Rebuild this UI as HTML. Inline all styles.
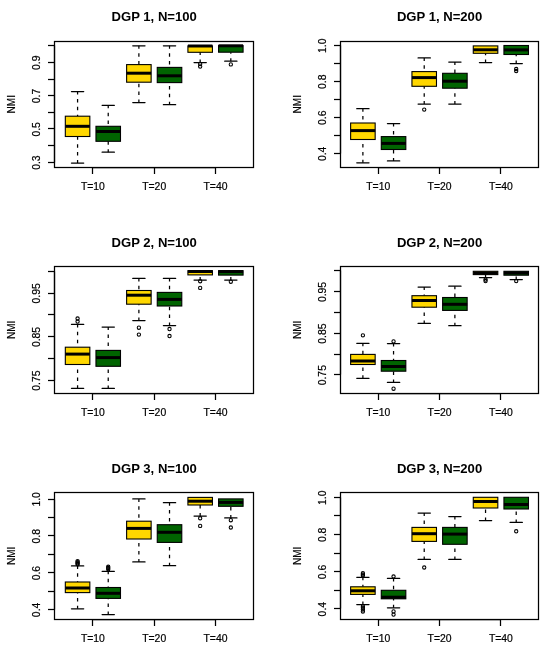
<!DOCTYPE html>
<html><head><meta charset="utf-8"><title>NMI boxplots</title>
<style>
html,body{margin:0;padding:0;background:#fff;}
body{width:550px;height:650px;overflow:hidden;}
svg{display:block;}
#w{width:550px;height:650px;}
.t{font-family:"Liberation Sans",Arial,sans-serif;font-size:10.4px;text-anchor:middle;fill:#000;stroke:#000;stroke-width:0.2px;}
.n{font-size:10px;stroke-width:0.12px;}
.ti{font-family:"Liberation Sans",Arial,sans-serif;font-size:13.1px;font-weight:bold;text-anchor:middle;fill:#000;}
.w{stroke:#000;stroke-width:1.25;stroke-dasharray:3.5 4.4;stroke-dashoffset:0.5;}
.s{stroke:#000;stroke-width:1.25;stroke-linecap:round;}
.b{stroke:#000;stroke-width:1.1;}
.m{stroke:#000;stroke-width:3;}
.o{fill:none;stroke:#000;stroke-width:1.05;}
.fr{fill:none;stroke:#000;stroke-width:1.25;}
.ax{stroke:#000;stroke-width:1.25;}
</style></head>
<body>
<div id="w">
<svg width="550" height="650" viewBox="0 0 550 650">
<line x1="77.58" y1="91.5" x2="77.58" y2="116.2" class="w"/>
<line x1="77.58" y1="163" x2="77.58" y2="136.5" class="w"/>
<line x1="71.45" y1="91.5" x2="83.71" y2="91.5" class="s"/>
<line x1="71.45" y1="163" x2="83.71" y2="163" class="s"/>
<rect x="65.32" y="116.2" width="24.52" height="20.3" fill="#FFD700" class="b"/>
<line x1="65.32" y1="126.3" x2="89.84" y2="126.3" class="m"/>
<line x1="108.23" y1="105.3" x2="108.23" y2="126.3" class="w"/>
<line x1="108.23" y1="152.2" x2="108.23" y2="141.3" class="w"/>
<line x1="102.1" y1="105.3" x2="114.36" y2="105.3" class="s"/>
<line x1="102.1" y1="152.2" x2="114.36" y2="152.2" class="s"/>
<rect x="95.97" y="126.3" width="24.52" height="15" fill="#006400" class="b"/>
<line x1="95.97" y1="131.5" x2="120.49" y2="131.5" class="m"/>
<line x1="138.88" y1="45.8" x2="138.88" y2="64.6" class="w"/>
<line x1="138.88" y1="102.5" x2="138.88" y2="82.2" class="w"/>
<line x1="132.75" y1="45.8" x2="145.01" y2="45.8" class="s"/>
<line x1="132.75" y1="102.5" x2="145.01" y2="102.5" class="s"/>
<rect x="126.62" y="64.6" width="24.52" height="17.6" fill="#FFD700" class="b"/>
<line x1="126.62" y1="73.2" x2="151.14" y2="73.2" class="m"/>
<line x1="169.52" y1="45.8" x2="169.52" y2="67.4" class="w"/>
<line x1="169.52" y1="104.7" x2="169.52" y2="82.6" class="w"/>
<line x1="163.39" y1="45.8" x2="175.65" y2="45.8" class="s"/>
<line x1="163.39" y1="104.7" x2="175.65" y2="104.7" class="s"/>
<rect x="157.26" y="67.4" width="24.52" height="15.2" fill="#006400" class="b"/>
<line x1="157.26" y1="75.8" x2="181.78" y2="75.8" class="m"/>
<line x1="200.17" y1="62.5" x2="200.17" y2="52.3" class="w"/>
<line x1="194.04" y1="62.5" x2="206.3" y2="62.5" class="s"/>
<rect x="187.91" y="45.9" width="24.52" height="6.4" fill="#FFD700" class="b"/>
<line x1="187.91" y1="46" x2="212.43" y2="46" class="m"/>
<circle cx="200.17" cy="64" r="1.65" class="o"/>
<circle cx="200.17" cy="66.5" r="1.65" class="o"/>
<line x1="230.82" y1="61.2" x2="230.82" y2="52.2" class="w"/>
<line x1="224.69" y1="61.2" x2="236.95" y2="61.2" class="s"/>
<rect x="218.56" y="45.6" width="24.52" height="6.6" fill="#006400" class="b"/>
<line x1="218.56" y1="45.8" x2="243.08" y2="45.8" class="m"/>
<circle cx="230.82" cy="64.4" r="1.65" class="o"/>
<rect x="54.5" y="41.5" width="199" height="126" class="fr"/>
<line x1="54.5" y1="162.5" x2="54.5" y2="45.5" class="ax"/>
<line x1="48" y1="162.5" x2="54.5" y2="162.5" class="ax"/>
<line x1="48" y1="145.5" x2="54.5" y2="145.5" class="ax"/>
<line x1="48" y1="128.5" x2="54.5" y2="128.5" class="ax"/>
<line x1="48" y1="112.5" x2="54.5" y2="112.5" class="ax"/>
<line x1="48" y1="95.5" x2="54.5" y2="95.5" class="ax"/>
<line x1="48" y1="79.5" x2="54.5" y2="79.5" class="ax"/>
<line x1="48" y1="62.5" x2="54.5" y2="62.5" class="ax"/>
<line x1="48" y1="45.5" x2="54.5" y2="45.5" class="ax"/>
<text transform="translate(40.3,162.65) rotate(-90)" class="t">0.3</text>
<text transform="translate(40.3,129.35) rotate(-90)" class="t">0.5</text>
<text transform="translate(40.3,96.05) rotate(-90)" class="t">0.7</text>
<text transform="translate(40.3,62.75) rotate(-90)" class="t">0.9</text>
<text transform="translate(15.3,104.25) rotate(-90)" class="t n">NMI</text>
<line x1="92.5" y1="167.5" x2="215.5" y2="167.5" class="ax"/>
<line x1="92.5" y1="167.5" x2="92.5" y2="174" class="ax"/>
<text x="92.9" y="189.8" class="t">T=10</text>
<line x1="154.5" y1="167.5" x2="154.5" y2="174" class="ax"/>
<text x="154.2" y="189.8" class="t">T=20</text>
<line x1="215.5" y1="167.5" x2="215.5" y2="174" class="ax"/>
<text x="215.5" y="189.8" class="t">T=40</text>
<text x="154.2" y="21.4" class="ti">DGP 1, N=100</text>
<line x1="362.89" y1="108.7" x2="362.89" y2="123" class="w"/>
<line x1="362.89" y1="162.8" x2="362.89" y2="139.5" class="w"/>
<line x1="356.76" y1="108.7" x2="369.02" y2="108.7" class="s"/>
<line x1="356.76" y1="162.8" x2="369.02" y2="162.8" class="s"/>
<rect x="350.63" y="123" width="24.53" height="16.5" fill="#FFD700" class="b"/>
<line x1="350.63" y1="130.6" x2="375.16" y2="130.6" class="m"/>
<line x1="393.55" y1="123.6" x2="393.55" y2="136.6" class="w"/>
<line x1="393.55" y1="160.9" x2="393.55" y2="149.5" class="w"/>
<line x1="387.42" y1="123.6" x2="399.69" y2="123.6" class="s"/>
<line x1="387.42" y1="160.9" x2="399.69" y2="160.9" class="s"/>
<rect x="381.29" y="136.6" width="24.53" height="12.9" fill="#006400" class="b"/>
<line x1="381.29" y1="143.4" x2="405.82" y2="143.4" class="m"/>
<line x1="424.22" y1="57.9" x2="424.22" y2="71.6" class="w"/>
<line x1="424.22" y1="104.1" x2="424.22" y2="86.3" class="w"/>
<line x1="418.09" y1="57.9" x2="430.35" y2="57.9" class="s"/>
<line x1="418.09" y1="104.1" x2="430.35" y2="104.1" class="s"/>
<rect x="411.95" y="71.6" width="24.53" height="14.7" fill="#FFD700" class="b"/>
<line x1="411.95" y1="77.6" x2="436.48" y2="77.6" class="m"/>
<circle cx="424.22" cy="109.6" r="1.65" class="o"/>
<line x1="454.88" y1="62.1" x2="454.88" y2="73.3" class="w"/>
<line x1="454.88" y1="104.1" x2="454.88" y2="88.2" class="w"/>
<line x1="448.75" y1="62.1" x2="461.01" y2="62.1" class="s"/>
<line x1="448.75" y1="104.1" x2="461.01" y2="104.1" class="s"/>
<rect x="442.62" y="73.3" width="24.53" height="14.9" fill="#006400" class="b"/>
<line x1="442.62" y1="81.2" x2="467.15" y2="81.2" class="m"/>
<line x1="485.55" y1="62.6" x2="485.55" y2="53.3" class="w"/>
<line x1="479.41" y1="62.6" x2="491.68" y2="62.6" class="s"/>
<rect x="473.28" y="45.9" width="24.53" height="7.4" fill="#FFD700" class="b"/>
<line x1="473.28" y1="49.8" x2="497.81" y2="49.8" class="m"/>
<line x1="516.21" y1="63.6" x2="516.21" y2="54.5" class="w"/>
<line x1="510.08" y1="63.6" x2="522.34" y2="63.6" class="s"/>
<rect x="503.94" y="45.5" width="24.53" height="9" fill="#006400" class="b"/>
<line x1="503.94" y1="49.9" x2="528.47" y2="49.9" class="m"/>
<circle cx="516.21" cy="69" r="1.65" class="o"/>
<circle cx="516.21" cy="71" r="1.65" class="o"/>
<rect x="340.5" y="41.5" width="198" height="126" class="fr"/>
<line x1="340.5" y1="153.5" x2="340.5" y2="45.5" class="ax"/>
<line x1="334" y1="153.5" x2="340.5" y2="153.5" class="ax"/>
<line x1="334" y1="135.5" x2="340.5" y2="135.5" class="ax"/>
<line x1="334" y1="117.5" x2="340.5" y2="117.5" class="ax"/>
<line x1="334" y1="99.5" x2="340.5" y2="99.5" class="ax"/>
<line x1="334" y1="81.5" x2="340.5" y2="81.5" class="ax"/>
<line x1="334" y1="63.5" x2="340.5" y2="63.5" class="ax"/>
<line x1="334" y1="45.5" x2="340.5" y2="45.5" class="ax"/>
<text transform="translate(325.6,153.88) rotate(-90)" class="t">0.4</text>
<text transform="translate(325.6,117.82) rotate(-90)" class="t">0.6</text>
<text transform="translate(325.6,81.76) rotate(-90)" class="t">0.8</text>
<text transform="translate(325.6,45.7) rotate(-90)" class="t">1.0</text>
<text transform="translate(300.6,104.25) rotate(-90)" class="t n">NMI</text>
<line x1="378.5" y1="167.5" x2="500.5" y2="167.5" class="ax"/>
<line x1="378.5" y1="167.5" x2="378.5" y2="174" class="ax"/>
<text x="378.22" y="189.8" class="t">T=10</text>
<line x1="439.5" y1="167.5" x2="439.5" y2="174" class="ax"/>
<text x="439.55" y="189.8" class="t">T=20</text>
<line x1="500.5" y1="167.5" x2="500.5" y2="174" class="ax"/>
<text x="500.88" y="189.8" class="t">T=40</text>
<text x="439.55" y="21.4" class="ti">DGP 1, N=200</text>
<line x1="77.58" y1="324.4" x2="77.58" y2="347.2" class="w"/>
<line x1="77.58" y1="388.3" x2="77.58" y2="364.5" class="w"/>
<line x1="71.45" y1="324.4" x2="83.71" y2="324.4" class="s"/>
<line x1="71.45" y1="388.3" x2="83.71" y2="388.3" class="s"/>
<rect x="65.32" y="347.2" width="24.52" height="17.3" fill="#FFD700" class="b"/>
<line x1="65.32" y1="354.1" x2="89.84" y2="354.1" class="m"/>
<circle cx="77.58" cy="318.5" r="1.65" class="o"/>
<circle cx="77.58" cy="321.5" r="1.65" class="o"/>
<line x1="108.23" y1="327.1" x2="108.23" y2="350.4" class="w"/>
<line x1="108.23" y1="388.4" x2="108.23" y2="366.3" class="w"/>
<line x1="102.1" y1="327.1" x2="114.36" y2="327.1" class="s"/>
<line x1="102.1" y1="388.4" x2="114.36" y2="388.4" class="s"/>
<rect x="95.97" y="350.4" width="24.52" height="15.9" fill="#006400" class="b"/>
<line x1="95.97" y1="357.6" x2="120.49" y2="357.6" class="m"/>
<line x1="138.88" y1="278.4" x2="138.88" y2="290.5" class="w"/>
<line x1="138.88" y1="320.6" x2="138.88" y2="304.2" class="w"/>
<line x1="132.75" y1="278.4" x2="145.01" y2="278.4" class="s"/>
<line x1="132.75" y1="320.6" x2="145.01" y2="320.6" class="s"/>
<rect x="126.62" y="290.5" width="24.52" height="13.7" fill="#FFD700" class="b"/>
<line x1="126.62" y1="295.2" x2="151.14" y2="295.2" class="m"/>
<circle cx="138.88" cy="327.7" r="1.65" class="o"/>
<circle cx="138.88" cy="334.6" r="1.65" class="o"/>
<line x1="169.52" y1="278.4" x2="169.52" y2="292.4" class="w"/>
<line x1="169.52" y1="325.5" x2="169.52" y2="306" class="w"/>
<line x1="163.39" y1="278.4" x2="175.65" y2="278.4" class="s"/>
<line x1="163.39" y1="325.5" x2="175.65" y2="325.5" class="s"/>
<rect x="157.26" y="292.4" width="24.52" height="13.6" fill="#006400" class="b"/>
<line x1="157.26" y1="299.4" x2="181.78" y2="299.4" class="m"/>
<circle cx="169.52" cy="329" r="1.65" class="o"/>
<circle cx="169.52" cy="336" r="1.65" class="o"/>
<line x1="200.17" y1="280" x2="200.17" y2="274.9" class="w"/>
<line x1="194.04" y1="280" x2="206.3" y2="280" class="s"/>
<rect x="187.91" y="270.7" width="24.52" height="4.2" fill="#FFD700" class="b"/>
<line x1="187.91" y1="271.5" x2="212.43" y2="271.5" class="m"/>
<circle cx="200.17" cy="281.2" r="1.65" class="o"/>
<circle cx="200.17" cy="287.9" r="1.65" class="o"/>
<line x1="230.82" y1="280.1" x2="230.82" y2="275.1" class="w"/>
<line x1="224.69" y1="280.1" x2="236.95" y2="280.1" class="s"/>
<rect x="218.56" y="270.7" width="24.52" height="4.4" fill="#006400" class="b"/>
<line x1="218.56" y1="271.6" x2="243.08" y2="271.6" class="m"/>
<circle cx="230.82" cy="281.7" r="1.65" class="o"/>
<rect x="54.5" y="266.5" width="199" height="127" class="fr"/>
<line x1="54.5" y1="380.5" x2="54.5" y2="271.5" class="ax"/>
<line x1="48" y1="380.5" x2="54.5" y2="380.5" class="ax"/>
<line x1="48" y1="358.5" x2="54.5" y2="358.5" class="ax"/>
<line x1="48" y1="336.5" x2="54.5" y2="336.5" class="ax"/>
<line x1="48" y1="314.5" x2="54.5" y2="314.5" class="ax"/>
<line x1="48" y1="293.5" x2="54.5" y2="293.5" class="ax"/>
<line x1="48" y1="271.5" x2="54.5" y2="271.5" class="ax"/>
<text transform="translate(40.3,380.6) rotate(-90)" class="t">0.75</text>
<text transform="translate(40.3,337) rotate(-90)" class="t">0.85</text>
<text transform="translate(40.3,293.4) rotate(-90)" class="t">0.95</text>
<text transform="translate(15.3,329.85) rotate(-90)" class="t n">NMI</text>
<line x1="92.5" y1="393.5" x2="215.5" y2="393.5" class="ax"/>
<line x1="92.5" y1="393.5" x2="92.5" y2="400" class="ax"/>
<text x="92.9" y="415.7" class="t">T=10</text>
<line x1="154.5" y1="393.5" x2="154.5" y2="400" class="ax"/>
<text x="154.2" y="415.7" class="t">T=20</text>
<line x1="215.5" y1="393.5" x2="215.5" y2="400" class="ax"/>
<text x="215.5" y="415.7" class="t">T=40</text>
<text x="154.2" y="246.7" class="ti">DGP 2, N=100</text>
<line x1="362.89" y1="343.3" x2="362.89" y2="354.4" class="w"/>
<line x1="362.89" y1="378.3" x2="362.89" y2="364.5" class="w"/>
<line x1="356.76" y1="343.3" x2="369.02" y2="343.3" class="s"/>
<line x1="356.76" y1="378.3" x2="369.02" y2="378.3" class="s"/>
<rect x="350.63" y="354.4" width="24.53" height="10.1" fill="#FFD700" class="b"/>
<line x1="350.63" y1="361" x2="375.16" y2="361" class="m"/>
<circle cx="362.89" cy="335.3" r="1.65" class="o"/>
<line x1="393.55" y1="343.5" x2="393.55" y2="360.5" class="w"/>
<line x1="393.55" y1="382.4" x2="393.55" y2="371.2" class="w"/>
<line x1="387.42" y1="343.5" x2="399.69" y2="343.5" class="s"/>
<line x1="387.42" y1="382.4" x2="399.69" y2="382.4" class="s"/>
<rect x="381.29" y="360.5" width="24.53" height="10.7" fill="#006400" class="b"/>
<line x1="381.29" y1="366.5" x2="405.82" y2="366.5" class="m"/>
<circle cx="393.55" cy="341.4" r="1.65" class="o"/>
<circle cx="393.55" cy="388.7" r="1.65" class="o"/>
<line x1="424.22" y1="287.1" x2="424.22" y2="295.7" class="w"/>
<line x1="424.22" y1="323.4" x2="424.22" y2="307.2" class="w"/>
<line x1="418.09" y1="287.1" x2="430.35" y2="287.1" class="s"/>
<line x1="418.09" y1="323.4" x2="430.35" y2="323.4" class="s"/>
<rect x="411.95" y="295.7" width="24.53" height="11.5" fill="#FFD700" class="b"/>
<line x1="411.95" y1="300.5" x2="436.48" y2="300.5" class="m"/>
<line x1="454.88" y1="286.2" x2="454.88" y2="297.5" class="w"/>
<line x1="454.88" y1="325.7" x2="454.88" y2="310.4" class="w"/>
<line x1="448.75" y1="286.2" x2="461.01" y2="286.2" class="s"/>
<line x1="448.75" y1="325.7" x2="461.01" y2="325.7" class="s"/>
<rect x="442.62" y="297.5" width="24.53" height="12.9" fill="#006400" class="b"/>
<line x1="442.62" y1="304.3" x2="467.15" y2="304.3" class="m"/>
<line x1="485.55" y1="277.5" x2="485.55" y2="274.6" class="w"/>
<line x1="479.41" y1="277.5" x2="491.68" y2="277.5" class="s"/>
<rect x="473.28" y="271.3" width="24.53" height="3.3" fill="#FFD700" class="b"/>
<line x1="473.28" y1="273" x2="497.81" y2="273" class="m"/>
<circle cx="485.55" cy="279.5" r="1.65" class="o"/>
<circle cx="485.55" cy="281" r="1.65" class="o"/>
<line x1="516.21" y1="279.6" x2="516.21" y2="275.2" class="w"/>
<line x1="510.08" y1="279.6" x2="522.34" y2="279.6" class="s"/>
<rect x="503.94" y="271.3" width="24.53" height="3.9" fill="#006400" class="b"/>
<line x1="503.94" y1="273" x2="528.47" y2="273" class="m"/>
<circle cx="516.21" cy="281.1" r="1.65" class="o"/>
<rect x="340.5" y="266.5" width="198" height="127" class="fr"/>
<line x1="340.5" y1="374.5" x2="340.5" y2="270.5" class="ax"/>
<line x1="334" y1="374.5" x2="340.5" y2="374.5" class="ax"/>
<line x1="334" y1="354.5" x2="340.5" y2="354.5" class="ax"/>
<line x1="334" y1="333.5" x2="340.5" y2="333.5" class="ax"/>
<line x1="334" y1="312.5" x2="340.5" y2="312.5" class="ax"/>
<line x1="334" y1="291.5" x2="340.5" y2="291.5" class="ax"/>
<line x1="334" y1="270.5" x2="340.5" y2="270.5" class="ax"/>
<text transform="translate(325.6,375.2) rotate(-90)" class="t">0.75</text>
<text transform="translate(325.6,333.6) rotate(-90)" class="t">0.85</text>
<text transform="translate(325.6,292) rotate(-90)" class="t">0.95</text>
<text transform="translate(300.6,329.85) rotate(-90)" class="t n">NMI</text>
<line x1="378.5" y1="393.5" x2="500.5" y2="393.5" class="ax"/>
<line x1="378.5" y1="393.5" x2="378.5" y2="400" class="ax"/>
<text x="378.22" y="415.7" class="t">T=10</text>
<line x1="439.5" y1="393.5" x2="439.5" y2="400" class="ax"/>
<text x="439.55" y="415.7" class="t">T=20</text>
<line x1="500.5" y1="393.5" x2="500.5" y2="400" class="ax"/>
<text x="500.88" y="415.7" class="t">T=40</text>
<text x="439.55" y="246.7" class="ti">DGP 2, N=200</text>
<line x1="77.58" y1="565.9" x2="77.58" y2="582" class="w"/>
<line x1="77.58" y1="608.8" x2="77.58" y2="592.6" class="w"/>
<line x1="71.45" y1="565.9" x2="83.71" y2="565.9" class="s"/>
<line x1="71.45" y1="608.8" x2="83.71" y2="608.8" class="s"/>
<rect x="65.32" y="582" width="24.52" height="10.6" fill="#FFD700" class="b"/>
<line x1="65.32" y1="588" x2="89.84" y2="588" class="m"/>
<circle cx="77.58" cy="561.1" r="1.65" class="o"/>
<circle cx="77.58" cy="562.2" r="1.65" class="o"/>
<circle cx="77.58" cy="563.3" r="1.65" class="o"/>
<circle cx="77.58" cy="564.3" r="1.65" class="o"/>
<line x1="108.23" y1="571.3" x2="108.23" y2="587.5" class="w"/>
<line x1="108.23" y1="614.5" x2="108.23" y2="598.4" class="w"/>
<line x1="102.1" y1="571.3" x2="114.36" y2="571.3" class="s"/>
<line x1="102.1" y1="614.5" x2="114.36" y2="614.5" class="s"/>
<rect x="95.97" y="587.5" width="24.52" height="10.9" fill="#006400" class="b"/>
<line x1="95.97" y1="593.3" x2="120.49" y2="593.3" class="m"/>
<circle cx="108.23" cy="566.8" r="1.65" class="o"/>
<circle cx="108.23" cy="568" r="1.65" class="o"/>
<circle cx="108.23" cy="569.2" r="1.65" class="o"/>
<line x1="138.88" y1="498.9" x2="138.88" y2="521.2" class="w"/>
<line x1="138.88" y1="561.9" x2="138.88" y2="539" class="w"/>
<line x1="132.75" y1="498.9" x2="145.01" y2="498.9" class="s"/>
<line x1="132.75" y1="561.9" x2="145.01" y2="561.9" class="s"/>
<rect x="126.62" y="521.2" width="24.52" height="17.8" fill="#FFD700" class="b"/>
<line x1="126.62" y1="528.4" x2="151.14" y2="528.4" class="m"/>
<line x1="169.52" y1="502.7" x2="169.52" y2="524.7" class="w"/>
<line x1="169.52" y1="565.7" x2="169.52" y2="542.4" class="w"/>
<line x1="163.39" y1="502.7" x2="175.65" y2="502.7" class="s"/>
<line x1="163.39" y1="565.7" x2="175.65" y2="565.7" class="s"/>
<rect x="157.26" y="524.7" width="24.52" height="17.7" fill="#006400" class="b"/>
<line x1="157.26" y1="532.3" x2="181.78" y2="532.3" class="m"/>
<line x1="200.17" y1="516" x2="200.17" y2="505" class="w"/>
<line x1="194.04" y1="516" x2="206.3" y2="516" class="s"/>
<rect x="187.91" y="497.4" width="24.52" height="7.6" fill="#FFD700" class="b"/>
<line x1="187.91" y1="501.2" x2="212.43" y2="501.2" class="m"/>
<circle cx="200.17" cy="518.3" r="1.65" class="o"/>
<circle cx="200.17" cy="525.9" r="1.65" class="o"/>
<line x1="230.82" y1="517.9" x2="230.82" y2="506.3" class="w"/>
<line x1="224.69" y1="517.9" x2="236.95" y2="517.9" class="s"/>
<rect x="218.56" y="498.9" width="24.52" height="7.4" fill="#006400" class="b"/>
<line x1="218.56" y1="502.4" x2="243.08" y2="502.4" class="m"/>
<circle cx="230.82" cy="520.2" r="1.65" class="o"/>
<circle cx="230.82" cy="527.5" r="1.65" class="o"/>
<rect x="54.5" y="492.5" width="199" height="127" class="fr"/>
<line x1="54.5" y1="609.5" x2="54.5" y2="499.5" class="ax"/>
<line x1="48" y1="609.5" x2="54.5" y2="609.5" class="ax"/>
<line x1="48" y1="591.5" x2="54.5" y2="591.5" class="ax"/>
<line x1="48" y1="572.5" x2="54.5" y2="572.5" class="ax"/>
<line x1="48" y1="554.5" x2="54.5" y2="554.5" class="ax"/>
<line x1="48" y1="535.5" x2="54.5" y2="535.5" class="ax"/>
<line x1="48" y1="517.5" x2="54.5" y2="517.5" class="ax"/>
<line x1="48" y1="499.5" x2="54.5" y2="499.5" class="ax"/>
<text transform="translate(40.3,609.92) rotate(-90)" class="t">0.4</text>
<text transform="translate(40.3,573.08) rotate(-90)" class="t">0.6</text>
<text transform="translate(40.3,536.24) rotate(-90)" class="t">0.8</text>
<text transform="translate(40.3,499.4) rotate(-90)" class="t">1.0</text>
<text transform="translate(15.3,555.85) rotate(-90)" class="t n">NMI</text>
<line x1="92.5" y1="619.5" x2="215.5" y2="619.5" class="ax"/>
<line x1="92.5" y1="619.5" x2="92.5" y2="626" class="ax"/>
<text x="92.9" y="641.7" class="t">T=10</text>
<line x1="154.5" y1="619.5" x2="154.5" y2="626" class="ax"/>
<text x="154.2" y="641.7" class="t">T=20</text>
<line x1="215.5" y1="619.5" x2="215.5" y2="626" class="ax"/>
<text x="215.5" y="641.7" class="t">T=40</text>
<text x="154.2" y="472.7" class="ti">DGP 3, N=100</text>
<line x1="362.89" y1="577.3" x2="362.89" y2="586.8" class="w"/>
<line x1="362.89" y1="604.5" x2="362.89" y2="594.4" class="w"/>
<line x1="356.76" y1="577.3" x2="369.02" y2="577.3" class="s"/>
<line x1="356.76" y1="604.5" x2="369.02" y2="604.5" class="s"/>
<rect x="350.63" y="586.8" width="24.53" height="7.6" fill="#FFD700" class="b"/>
<line x1="350.63" y1="590.8" x2="375.16" y2="590.8" class="m"/>
<circle cx="362.89" cy="573.2" r="1.65" class="o"/>
<circle cx="362.89" cy="574.5" r="1.65" class="o"/>
<circle cx="362.89" cy="575.5" r="1.65" class="o"/>
<circle cx="362.89" cy="606.3" r="1.65" class="o"/>
<circle cx="362.89" cy="607.8" r="1.65" class="o"/>
<circle cx="362.89" cy="609.5" r="1.65" class="o"/>
<circle cx="362.89" cy="611.5" r="1.65" class="o"/>
<line x1="393.55" y1="578.4" x2="393.55" y2="590.3" class="w"/>
<line x1="393.55" y1="607.8" x2="393.55" y2="598.8" class="w"/>
<line x1="387.42" y1="578.4" x2="399.69" y2="578.4" class="s"/>
<line x1="387.42" y1="607.8" x2="399.69" y2="607.8" class="s"/>
<rect x="381.29" y="590.3" width="24.53" height="8.5" fill="#006400" class="b"/>
<line x1="381.29" y1="597.2" x2="405.82" y2="597.2" class="m"/>
<circle cx="393.55" cy="576.5" r="1.65" class="o"/>
<circle cx="393.55" cy="611.4" r="1.65" class="o"/>
<circle cx="393.55" cy="614.6" r="1.65" class="o"/>
<line x1="424.22" y1="513.1" x2="424.22" y2="527.4" class="w"/>
<line x1="424.22" y1="559.4" x2="424.22" y2="541.4" class="w"/>
<line x1="418.09" y1="513.1" x2="430.35" y2="513.1" class="s"/>
<line x1="418.09" y1="559.4" x2="430.35" y2="559.4" class="s"/>
<rect x="411.95" y="527.4" width="24.53" height="14" fill="#FFD700" class="b"/>
<line x1="411.95" y1="533.7" x2="436.48" y2="533.7" class="m"/>
<circle cx="424.22" cy="567.5" r="1.65" class="o"/>
<line x1="454.88" y1="516.5" x2="454.88" y2="527.4" class="w"/>
<line x1="454.88" y1="559.4" x2="454.88" y2="544.3" class="w"/>
<line x1="448.75" y1="516.5" x2="461.01" y2="516.5" class="s"/>
<line x1="448.75" y1="559.4" x2="461.01" y2="559.4" class="s"/>
<rect x="442.62" y="527.4" width="24.53" height="16.9" fill="#006400" class="b"/>
<line x1="442.62" y1="534.1" x2="467.15" y2="534.1" class="m"/>
<line x1="485.55" y1="520.5" x2="485.55" y2="508" class="w"/>
<line x1="479.41" y1="520.5" x2="491.68" y2="520.5" class="s"/>
<rect x="473.28" y="497.3" width="24.53" height="10.7" fill="#FFD700" class="b"/>
<line x1="473.28" y1="501.5" x2="497.81" y2="501.5" class="m"/>
<line x1="516.21" y1="522.4" x2="516.21" y2="509" class="w"/>
<line x1="510.08" y1="522.4" x2="522.34" y2="522.4" class="s"/>
<rect x="503.94" y="497.3" width="24.53" height="11.7" fill="#006400" class="b"/>
<line x1="503.94" y1="504.5" x2="528.47" y2="504.5" class="m"/>
<circle cx="516.21" cy="531.3" r="1.65" class="o"/>
<rect x="340.5" y="492.5" width="198" height="127" class="fr"/>
<line x1="340.5" y1="608.5" x2="340.5" y2="497.5" class="ax"/>
<line x1="334" y1="608.5" x2="340.5" y2="608.5" class="ax"/>
<line x1="334" y1="590.5" x2="340.5" y2="590.5" class="ax"/>
<line x1="334" y1="571.5" x2="340.5" y2="571.5" class="ax"/>
<line x1="334" y1="553.5" x2="340.5" y2="553.5" class="ax"/>
<line x1="334" y1="534.5" x2="340.5" y2="534.5" class="ax"/>
<line x1="334" y1="515.5" x2="340.5" y2="515.5" class="ax"/>
<line x1="334" y1="497.5" x2="340.5" y2="497.5" class="ax"/>
<text transform="translate(325.6,609.18) rotate(-90)" class="t">0.4</text>
<text transform="translate(325.6,572.02) rotate(-90)" class="t">0.6</text>
<text transform="translate(325.6,534.86) rotate(-90)" class="t">0.8</text>
<text transform="translate(325.6,497.7) rotate(-90)" class="t">1.0</text>
<text transform="translate(300.6,555.85) rotate(-90)" class="t n">NMI</text>
<line x1="378.5" y1="619.5" x2="500.5" y2="619.5" class="ax"/>
<line x1="378.5" y1="619.5" x2="378.5" y2="626" class="ax"/>
<text x="378.22" y="641.7" class="t">T=10</text>
<line x1="439.5" y1="619.5" x2="439.5" y2="626" class="ax"/>
<text x="439.55" y="641.7" class="t">T=20</text>
<line x1="500.5" y1="619.5" x2="500.5" y2="626" class="ax"/>
<text x="500.88" y="641.7" class="t">T=40</text>
<text x="439.55" y="472.7" class="ti">DGP 3, N=200</text>
</svg>
</div>
</body></html>
